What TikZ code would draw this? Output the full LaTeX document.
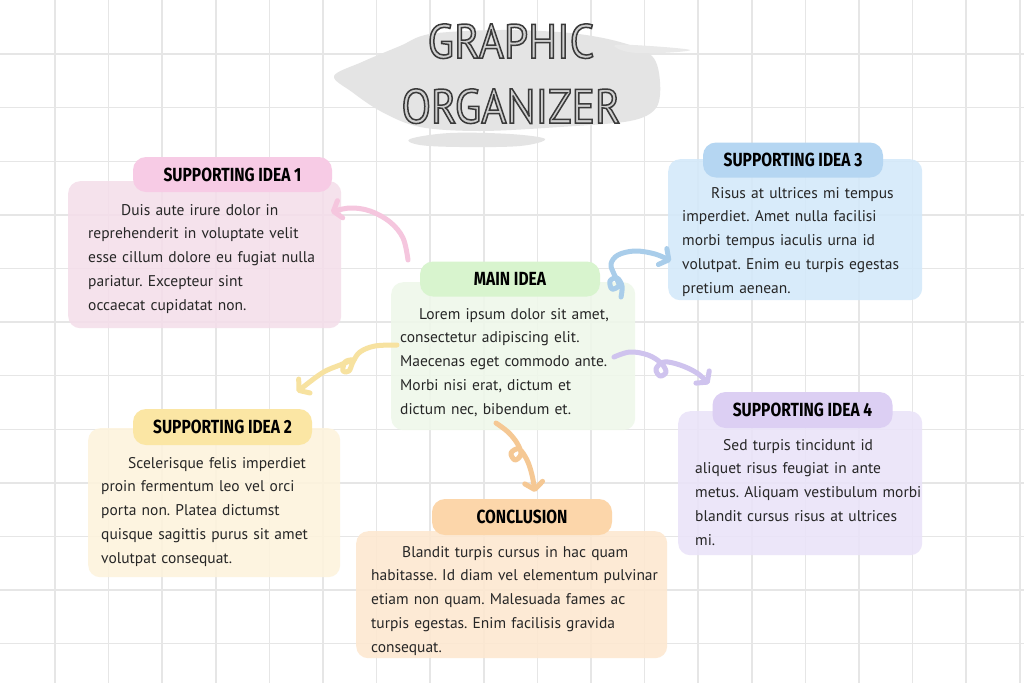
\documentclass[tikz,border=0pt]{standalone}
\usepackage{fontspec}
\setmainfont{PT Sans}
\newfontfamily\headfont[FakeStretch=0.82]{Fira Sans}
\newfontfamily\titlefont[FakeStretch=0.9]{PT Sans}
\usetikzlibrary{arrows.meta}
\frenchspacing
\definecolor{gridgray}{HTML}{E6E6E6}
\definecolor{brushgray}{HTML}{E4E4E4}
\definecolor{titlegray}{HTML}{3A3A3A}
\definecolor{titlefill}{HTML}{D0D0D0}
\definecolor{textgray}{HTML}{262626}
\definecolor{pinkhead}{HTML}{F7CBE5}
\definecolor{pinkbody}{HTML}{F4DEEA}
\definecolor{bluehead}{HTML}{B5D6F2}
\definecolor{bluebody}{HTML}{D3E9FA}
\definecolor{greenhead}{HTML}{D8F4CE}
\definecolor{greenbody}{HTML}{EEF8EA}
\definecolor{yellowhead}{HTML}{FBE6A4}
\definecolor{yellowbody}{HTML}{FDF3DC}
\definecolor{purplehead}{HTML}{DCCFF3}
\definecolor{purplebody}{HTML}{EAE3F9}
\definecolor{orangehead}{HTML}{FCD6AA}
\definecolor{orangebody}{HTML}{FDE8D0}
\definecolor{pinkarrow}{HTML}{F5C6DE}
\definecolor{bluearrow}{HTML}{A9CDEA}
\definecolor{yellowarrow}{HTML}{F7E2A0}
\definecolor{purplearrow}{HTML}{CFC3EE}
\definecolor{orangearrow}{HTML}{F5C894}
\tikzset{
  gridline/.style={draw=gridgray, line width=1.5pt},
  bodybox/.style={rounded corners=12pt, draw=none, inner sep=0pt, anchor=north west, fill opacity=0.88},
  headbox/.style={rounded corners=13pt, draw=none, inner sep=0pt, text=black,
    font=\headfont\bfseries\fontsize{19}{19}\selectfont},
  bodytext/.style={anchor=base west, inner sep=0pt, align=left, text width=330pt,
    text=textgray, font=\fontsize{15.5}{23.8}\selectfont},
  curl/.style={line width=5pt, line cap=round, line join=round,
    -{Straight Barb[length=7pt,width=18pt,round]}},
  titletext/.style={anchor=base, inner sep=0pt, font=\titlefont\fontsize{48}{48}\selectfont}
}
\begin{document}
\begin{tikzpicture}[x=1pt,y=-1pt]
\useasboundingbox (0,0) rectangle (1024,683);
\fill[white] (0,0) rectangle (1024,683);
% grid
\foreach \i in {1,...,19} \draw[gridline] ({1.4+53.6*\i},0) -- ({1.4+53.6*\i},683);
\foreach \j in {1,...,12} \draw[gridline] (0,{0.5+53.6*\j}) -- (1024,{0.5+53.6*\j});
% brush stroke
\fill[brushgray] plot[smooth cycle, tension=0.55] coordinates {(334,76) (362,62) (400,46) (430,34) (500,30) (570,33) (620,42) (652,56) (660,82) (656,108) (630,121) (560,127) (480,131) (420,127) (382,112) (352,92)};
\fill[brushgray] plot[smooth cycle, tension=0.6] coordinates {(410,139) (450,133) (510,134) (545,139) (520,146) (460,147) (420,145)};
\fill[brushgray!80] plot[smooth cycle, tension=0.6] coordinates {(615,45) (650,46) (690,50) (660,53) (628,52)};
% title
\node[titletext, text=titlefill] (title1fill) at (511,58) {GRAPHIC};
\node[titletext, text=titlefill] (title2fill) at (511,123) {ORGANIZER};
\node[titletext, text=titlegray] (title1) at (511,58) {\special{pdf:literal direct 1 Tr 1.5 w}GRAPHIC\special{pdf:literal direct 0 Tr}};
\node[titletext, text=titlegray] (title2) at (511,123) {\special{pdf:literal direct 1 Tr 1.5 w}ORGANIZER\special{pdf:literal direct 0 Tr}};
% body boxes
\node[bodybox, fill=pinkbody, minimum width=273pt, minimum height=147pt] (b1) at (68,181) {};
\node[bodybox, fill=bluebody, minimum width=254pt, minimum height=141pt] (b3) at (668,159) {};
\node[bodybox, fill=greenbody, minimum width=244pt, minimum height=148pt] (bm) at (391,282) {};
\node[bodybox, fill=yellowbody, minimum width=252pt, minimum height=149pt] (b2) at (88,428) {};
\node[bodybox, fill=purplebody, minimum width=244pt, minimum height=144pt] (b4) at (678,411) {};
\node[bodybox, fill=orangebody, minimum width=311pt, minimum height=127pt] (bc) at (356,531) {};
% headers
\node[headbox, fill=pinkhead, minimum width=199pt, minimum height=35pt] (h1) at (232.5,174.5) {SUPPORTING IDEA 1};
\node[headbox, fill=bluehead, minimum width=180pt, minimum height=35pt] (h3) at (793,160) {SUPPORTING IDEA 3};
\node[headbox, fill=greenhead, minimum width=180pt, minimum height=35pt] (hm) at (510,279) {MAIN IDEA};
\node[headbox, fill=yellowhead, minimum width=179pt, minimum height=36pt] (h2) at (222.5,427) {SUPPORTING IDEA 2};
\node[headbox, fill=purplehead, minimum width=180pt, minimum height=36pt] (h4) at (802.5,410) {SUPPORTING IDEA 4};
\node[headbox, fill=orangehead, minimum width=180pt, minimum height=36pt] (hc) at (522,517) {CONCLUSION};
% body texts
\node[bodytext] (t1) at (88,215) {\hspace*{33pt}Duis aute irure dolor in\\reprehenderit in voluptate velit\\esse cillum dolore eu fugiat nulla\\pariatur. Excepteur sint\\occaecat cupidatat non.};
\node[bodytext] (t3) at (682,198) {\hspace*{29pt}Risus at ultrices mi tempus\\imperdiet. Amet nulla facilisi\\morbi tempus iaculis urna id\\volutpat. Enim eu turpis egestas\\pretium aenean.};
\node[bodytext] (tm) at (400,319) {\hspace*{19pt}Lorem ipsum dolor sit amet,\\consectetur adipiscing elit.\\Maecenas eget commodo ante.\\Morbi nisi erat, dictum et\\dictum nec, bibendum et.};
\node[bodytext] (t2) at (101,468) {\hspace*{27pt}Scelerisque felis imperdiet\\proin fermentum leo vel orci\\porta non. Platea dictumst\\quisque sagittis purus sit amet\\volutpat consequat.};
\node[bodytext] (t4) at (695,450) {\hspace*{28pt}Sed turpis tincidunt id\\aliquet risus feugiat in ante\\metus. Aliquam vestibulum morbi\\blandit cursus risus at ultrices\\mi.};
\node[bodytext] (tc) at (371,557) {\hspace*{31pt}Blandit turpis cursus in hac quam\\habitasse. Id diam vel elementum pulvinar\\etiam non quam. Malesuada fames ac\\turpis egestas. Enim facilisis gravida\\consequat.};
% connectors
\coordinate (a1s) at (408,260);
\coordinate (a1e) at (331,212);
\coordinate (a3s) at (621,297);
\coordinate (a3e) at (671,261);
\coordinate (a2s) at (397,345);
\coordinate (a2e) at (297,392);
\coordinate (a4s) at (614,357);
\coordinate (a4e) at (709,384);
\coordinate (acs) at (496,423);
\coordinate (ace) at (535,492);
\draw[curl, pinkarrow] plot[smooth, tension=0.6] coordinates {(a1s) (403,238) (390,222) (370,211) (350,208) (a1e)};
\draw[curl, bluearrow] plot[smooth, tension=0.6] coordinates {(a3s) (622,286) (617,278) (610,281) (612,289) (619,285) (614,274) (611,264) (618,255) (635,251) (655,254) (a3e)};
\draw[curl, yellowarrow] plot[smooth, tension=0.6] coordinates {(a2s) (375,346) (360,352) (353,362) (349,371) (343,371) (345,362) (352,360) (340,365) (322,373) (a2e)};
\draw[curl, purplearrow] plot[smooth, tension=0.6] coordinates {(a4s) (630,352) (648,355) (661,363) (666,372) (660,376) (656,369) (664,362) (680,365) (697,373) (a4e)};
\draw[curl, orangearrow] plot[smooth, tension=0.6] coordinates {(acs) (508,432) (517,443) (521,454) (515,460) (511,453) (519,449) (527,460) (532,475) (ace)};
\end{tikzpicture}
\end{document}
